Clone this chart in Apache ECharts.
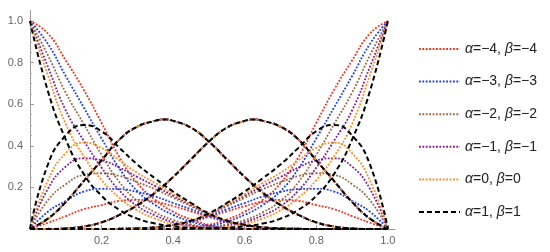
<!DOCTYPE html>
<html>
<head>
<meta charset="utf-8">
<script src="https://cdn.jsdelivr.net/npm/echarts@6.0.0/dist/echarts.min.js"></script>
<style>
  html, body { margin: 0; padding: 0; background: #fff; }
  #main { width: 550px; height: 252px; }
</style>
</head>
<body>
<div id="main"></div>
<script>
;(function () {
  // t = 0, 0.05, ..., 1
  const xs = [0, 0.05, 0.1, 0.15, 0.2, 0.25, 0.3, 0.35, 0.4, 0.45, 0.5, 0.55, 0.6, 0.65, 0.7, 0.75, 0.8, 0.85, 0.9, 0.95, 1]
  // the two middle bumps get one extra sample at their tops
  const xsMid2 = [0, 0.05, 0.1, 0.15, 0.2, 0.25, 0.3, 0.35, 0.375, 0.4, 0.45, 0.5, 0.55, 0.6, 0.65, 0.7, 0.75, 0.8, 0.85, 0.9, 0.95, 1]
  const xsMid3 = [0, 0.05, 0.1, 0.15, 0.2, 0.25, 0.3, 0.35, 0.4, 0.45, 0.5, 0.55, 0.6, 0.625, 0.65, 0.7, 0.75, 0.8, 0.85, 0.9, 0.95, 1]
  const xTicks = [0.2, 0.4, 0.6, 0.8, 1.0]
  const yTicks = [0.2, 0.4, 0.6, 0.8, 1.0]

  const names = ['α=−4, β=−4', 'α=−3, β=−3', 'α=−2, β=−2', 'α=−1, β=−1', 'α=0, β=0', 'α=1, β=1']
  const colors = ['#f2301e', '#1a3cf5', '#9b6a45', '#7d1f94', '#ff8a1c', '#000000']

  // middle functions, identical for every parameter pair
  const mid2 = [0, 0.05, 0.13, 0.23, 0.33, 0.43, 0.492, 0.52, 0.527, 0.52, 0.487, 0.42, 0.335, 0.25, 0.175, 0.115, 0.068, 0.032, 0.012, 0.003, 0, 0]
  const mid3 = [0, 0, 0.003, 0.012, 0.032, 0.068, 0.115, 0.175, 0.25, 0.335, 0.42, 0.487, 0.52, 0.527, 0.52, 0.492, 0.43, 0.33, 0.23, 0.13, 0.05, 0]

  const red0 = [1, 0.94, 0.81, 0.67, 0.51, 0.345, 0.22, 0.14, 0.083, 0.046, 0.02, 0.007, 0.002, 0, 0, 0, 0, 0, 0, 0, 0]
  const red1 = [0, 0.03, 0.062, 0.095, 0.115, 0.135, 0.14, 0.131, 0.11, 0.085, 0.058, 0.034, 0.018, 0.008, 0.003, 0.001, 0, 0, 0, 0, 0]
  const red4 = [0, 0, 0, 0, 0, 0.001, 0.003, 0.008, 0.018, 0.034, 0.058, 0.085, 0.11, 0.131, 0.14, 0.135, 0.115, 0.095, 0.062, 0.03, 0]
  const red5 = [0, 0, 0, 0, 0, 0, 0, 0, 0.002, 0.007, 0.02, 0.046, 0.083, 0.14, 0.22, 0.345, 0.51, 0.67, 0.81, 0.94, 1]

  const blue0 = [1, 0.89, 0.735, 0.585, 0.435, 0.29, 0.182, 0.115, 0.068, 0.036, 0.015, 0.005, 0.001, 0, 0, 0, 0, 0, 0, 0, 0]
  const blue1 = [0, 0.083, 0.135, 0.18, 0.193, 0.192, 0.178, 0.156, 0.125, 0.095, 0.063, 0.036, 0.019, 0.008, 0.003, 0.001, 0, 0, 0, 0, 0]
  const blue4 = [0, 0, 0, 0, 0, 0.001, 0.003, 0.008, 0.019, 0.036, 0.063, 0.095, 0.125, 0.156, 0.178, 0.192, 0.193, 0.18, 0.135, 0.083, 0]
  const blue5 = [0, 0, 0, 0, 0, 0, 0, 0, 0.001, 0.005, 0.015, 0.036, 0.068, 0.115, 0.182, 0.29, 0.435, 0.585, 0.735, 0.89, 1]

  const brown0 = [1, 0.835, 0.655, 0.505, 0.357, 0.225, 0.135, 0.08, 0.043, 0.022, 0.008, 0.003, 0.001, 0, 0, 0, 0, 0, 0, 0, 0]
  const brown1 = [0, 0.138, 0.215, 0.26, 0.268, 0.255, 0.225, 0.191, 0.15, 0.109, 0.07, 0.038, 0.019, 0.008, 0.003, 0.001, 0, 0, 0, 0, 0]
  const brown4 = [0, 0, 0, 0, 0, 0.001, 0.003, 0.008, 0.019, 0.038, 0.07, 0.109, 0.15, 0.191, 0.225, 0.255, 0.268, 0.26, 0.215, 0.138, 0]
  const brown5 = [0, 0, 0, 0, 0, 0, 0, 0, 0.001, 0.003, 0.008, 0.022, 0.043, 0.08, 0.135, 0.225, 0.357, 0.505, 0.655, 0.835, 1]

  const purple0 = [1, 0.78, 0.57, 0.425, 0.295, 0.185, 0.11, 0.065, 0.033, 0.016, 0.005, 0.002, 0, 0, 0, 0, 0, 0, 0, 0, 0]
  const purple1 = [0, 0.193, 0.3, 0.34, 0.33, 0.295, 0.25, 0.206, 0.16, 0.115, 0.073, 0.039, 0.02, 0.008, 0.003, 0.001, 0, 0, 0, 0, 0]
  const purple4 = [0, 0, 0, 0, 0, 0.001, 0.003, 0.008, 0.02, 0.039, 0.073, 0.115, 0.16, 0.206, 0.25, 0.295, 0.33, 0.34, 0.3, 0.193, 0]
  const purple5 = [0, 0, 0, 0, 0, 0, 0, 0, 0, 0.002, 0.005, 0.016, 0.033, 0.065, 0.11, 0.185, 0.295, 0.425, 0.57, 0.78, 1]

  const orange0 = [1, 0.74, 0.505, 0.35, 0.235, 0.15, 0.09, 0.05, 0.025, 0.012, 0.004, 0.001, 0, 0, 0, 0, 0, 0, 0, 0, 0]
  const orange1 = [0, 0.233, 0.365, 0.415, 0.39, 0.33, 0.27, 0.221, 0.168, 0.119, 0.074, 0.04, 0.02, 0.008, 0.003, 0.001, 0, 0, 0, 0, 0]
  const orange4 = [0, 0, 0, 0, 0, 0.001, 0.003, 0.008, 0.02, 0.04, 0.074, 0.119, 0.168, 0.221, 0.27, 0.33, 0.39, 0.415, 0.365, 0.233, 0]
  const orange5 = [0, 0, 0, 0, 0, 0, 0, 0, 0, 0.001, 0.004, 0.012, 0.025, 0.05, 0.09, 0.15, 0.235, 0.35, 0.505, 0.74, 1]

  const black0 = [1, 0.663, 0.43, 0.265, 0.16, 0.092, 0.05, 0.026, 0.013, 0.006, 0.003, 0.001, 0, 0, 0, 0, 0, 0, 0, 0, 0]
  const black1 = [0, 0.31, 0.45, 0.5, 0.47, 0.39, 0.31, 0.243, 0.18, 0.125, 0.075, 0.04, 0.02, 0.008, 0.003, 0.001, 0, 0, 0, 0, 0]
  const black4 = [0, 0, 0, 0, 0, 0.001, 0.003, 0.008, 0.02, 0.04, 0.075, 0.125, 0.18, 0.243, 0.31, 0.39, 0.47, 0.5, 0.45, 0.31, 0]
  const black5 = [0, 0, 0, 0, 0, 0, 0, 0, 0, 0.001, 0.003, 0.006, 0.013, 0.026, 0.05, 0.092, 0.16, 0.265, 0.43, 0.663, 1]

  const families = [
    [red0, red1, mid2, mid3, red4, red5],
    [blue0, blue1, mid2, mid3, blue4, blue5],
    [brown0, brown1, mid2, mid3, brown4, brown5],
    [purple0, purple1, mid2, mid3, purple4, purple5],
    [orange0, orange1, mid2, mid3, orange4, orange5],
    [black0, black1, mid2, mid3, black4, black5],
  ]

  function xsFor(ys) {
    if (ys === mid2) return xsMid2
    if (ys === mid3) return xsMid3
    return xs
  }

  const series = []
  families.forEach((curves, k) => {
    const isBlack = k === families.length - 1
    for (const ys of curves) {
      const grid = xsFor(ys)
      series.push({
        name: names[k],
        type: 'line',
        symbol: 'none',
        smooth: 0.5,
        silent: true,
        data: grid.map((x, i) => [x, ys[i]]),
        lineStyle: isBlack
          ? { color: colors[k], width: 2, type: [5, 3] }
          : { color: colors[k], width: 1.8, type: [1.8, 1.6] },
        itemStyle: { color: colors[k] },
      })
    }
  })

  const axisGray = '#9a9a9a'
  const labelGray = '#666'
  const font = 'Liberation Sans, Arial, sans-serif'

  const chart = echarts.init(document.getElementById('main'), null, { renderer: 'canvas' })
  chart.setOption({
    animation: false,
    grid: { left: 30, right: 155, top: 10.6, bottom: 23, containLabel: false },
    xAxis: {
      type: 'value',
      min: 0,
      max: 1.02,
      interval: 0.2,
      axisLine: { show: true, onZero: false, lineStyle: { color: axisGray } },
      axisTick: { show: true, inside: true, length: 4, customValues: xTicks, lineStyle: { color: axisGray } },
      minorTick: { show: true, splitNumber: 4, length: 2, lineStyle: { color: '#b0b0b0' } },
      splitLine: { show: false },
      axisLabel: {
        customValues: xTicks,
        formatter: (v) => v.toFixed(1),
        color: labelGray,
        fontSize: 11,
        margin: 6,
        fontFamily: font,
      },
    },
    yAxis: {
      type: 'value',
      min: 0,
      max: 1.05,
      interval: 0.2,
      axisLine: { show: true, onZero: false, lineStyle: { color: axisGray } },
      axisTick: { show: true, inside: true, length: 4, customValues: yTicks, lineStyle: { color: axisGray } },
      minorTick: { show: true, splitNumber: 4, length: 2, lineStyle: { color: '#b0b0b0' } },
      splitLine: { show: false },
      axisLabel: {
        customValues: yTicks,
        formatter: (v) => v.toFixed(1),
        color: labelGray,
        fontSize: 11,
        margin: 7,
        fontFamily: font,
      },
    },
    legend: {
      orient: 'vertical',
      left: 413,
      top: 37,
      itemWidth: 41,
      itemHeight: 14,
      itemGap: 18.6,
      selectedMode: false,
      data: names,
      itemStyle: { opacity: 0 },
      formatter: (name) => name.replace(/α/g, '{g|α}').replace(/β/g, '{g|β}'),
      textStyle: {
        color: '#222',
        fontSize: 14,
        fontFamily: font,
        rich: {
          g: { fontStyle: 'italic', fontSize: 14, color: '#222', fontFamily: font },
        },
      },
    },
    series,
  })
})()
</script>
</body>
</html>
